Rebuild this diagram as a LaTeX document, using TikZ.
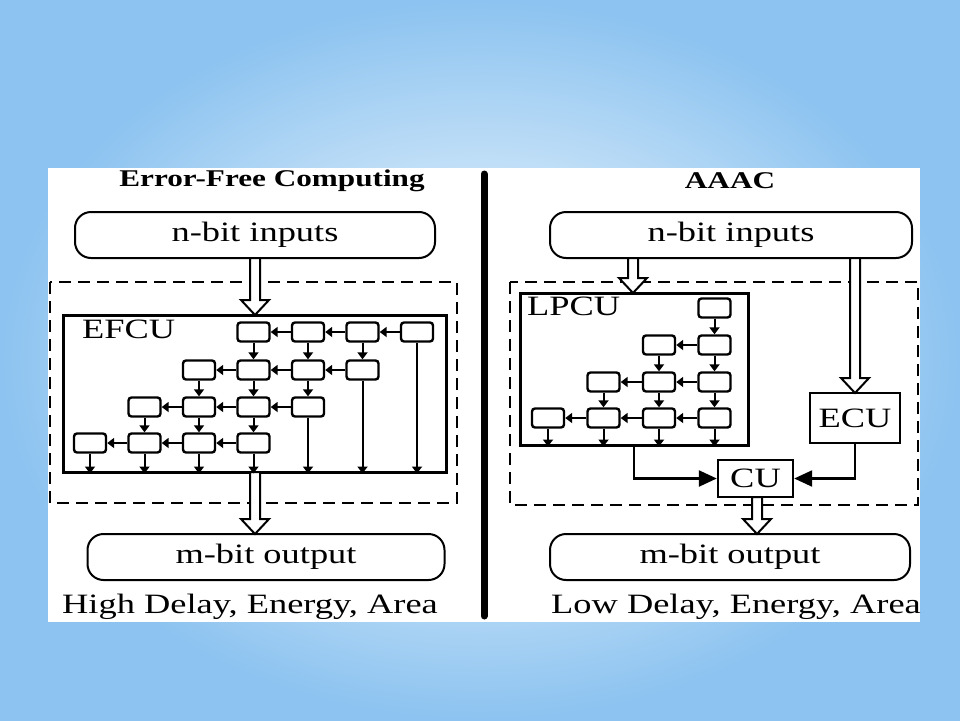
\documentclass[tikz,border=0pt]{standalone}
\usepackage{fontspec}
\setmainfont{Liberation Serif}
\usetikzlibrary{arrows.meta}
\newcommand{\sx}[1]{\scalebox{1.3}[1]{#1}}
\tikzset{
 cell/.style={draw,line width=2.4pt,rounded corners=3pt,minimum width=32pt,minimum height=19pt,inner sep=0pt},
 rbox/.style={draw,line width=2pt,rounded corners=16pt,inner sep=0pt,font=\fontsize{28}{30}\selectfont},
 sbox/.style={draw,line width=2.4pt,inner sep=0pt,font=\fontsize{28}{30}\selectfont},
 ar/.style={line width=2pt,-{Triangle[length=7pt,width=10pt]}},
 bigar/.style={line width=2.4pt,-{Triangle[length=18pt,width=16pt]}},
 hol/.style={draw,line width=2pt,fill=white,line join=miter},
 dashbox/.style={draw,line width=1.6pt,dash pattern=on 12pt off 7pt},
 lbl/.style={font=\fontsize{28}{30}\selectfont},
 ttl/.style={font=\bfseries\fontsize{24}{26}\selectfont}
}
\newcommand{\hollowarrow}[3]{%
 \path[hol] (#1-5,#2) -- (#1-5,#3-15) -- (#1-14,#3-15) -- (#1,#3) -- (#1+14,#3-15) -- (#1+5,#3-15) -- (#1+5,#2) -- cycle;}
\begin{document}
\begin{tikzpicture}[x=1pt,y=-1pt]
\shade[inner color=white,outer color={rgb,255:red,140;green,195;blue,240}] (0,0) rectangle (960,720);
\fill[white] (48,168) rectangle (920,622);
\draw[line width=7pt,line cap=round] (484,174) -- (484,616);
% left
\node[ttl] (t1) at (272,181) {\sx{Error-Free Computing}};
\node[rbox,minimum width=360pt,minimum height=46pt] (in1) at (255,235) {\sx{n-bit inputs}};
\path[dashbox] (50,282) rectangle (457,503);
\node[draw,line width=3pt,minimum width=383pt,minimum height=157pt,inner sep=0pt] (efcu) at (254.5,393.5) {};
\node[lbl,anchor=north west,inner sep=0pt] (efl) at (82,320) {\sx{EFCU}};
\node[rbox,minimum width=357pt,minimum height=46pt] (out1) at (266,557) {\sx{m-bit output}};
\node[lbl] (b1) at (250,607) {\sx{High Delay, Energy, Area}};
\hollowarrow{255}{258}{315}
\hollowarrow{255}{472}{534}
\foreach \r/\y/\cs in {1/332/{4,5,6,7},2/370/{3,4,5,6},3/407/{2,3,4,5},4/443/{1,2,3,4}}{
 \foreach \c in \cs { \node[cell] (e\r\c) at ({90+54.5*(\c-1)},\y) {}; }
}
\foreach \r/\a/\b in {1/4/6,2/3/5,3/2/4,4/1/3}{
 \foreach \c in {\a,...,\b}{ \pgfmathtruncatemacro\n{\c+1} \draw[ar] (e\r\n) -- (e\r\c); }
}
\foreach \c in {4,5,6}{\draw[ar] (e1\c) -- (e2\c);}
\foreach \c in {3,4,5}{\draw[ar] (e2\c) -- (e3\c);}
\foreach \c in {2,3,4}{\draw[ar] (e3\c) -- (e4\c);}
\foreach \c in {1,2,3,4}{\draw[ar] (e4\c.south) -- (e4\c.south |- efcu.south);}
\draw[ar] (e17.south) -- (e17.south |- efcu.south);
\draw[ar] (e26.south) -- (e26.south |- efcu.south);
\draw[ar] (e35.south) -- (e35.south |- efcu.south);
% right
\node[ttl] (t2) at (730,181) {\sx{AAAC}};
\node[rbox,minimum width=362pt,minimum height=46pt] (in2) at (731,235) {\sx{n-bit inputs}};
\path[dashbox] (510,282) rectangle (918,505);
\node[draw,line width=3pt,minimum width=228pt,minimum height=152pt,inner sep=0pt] (lpcu) at (634,369) {};
\node[lbl,anchor=north west,inner sep=0pt] (lpl) at (527,297) {\sx{LPCU}};
\foreach \r/\y/\cs in {1/308/{4},2/345/{3,4},3/382/{2,3,4},4/418/{1,2,3,4}}{
 \foreach \c in \cs { \node[cell] (l\r\c) at ({548+55.5*(\c-1)},\y) {}; }
}
\draw[ar] (l24) -- (l23);
\draw[ar] (l34) -- (l33); \draw[ar] (l33) -- (l32);
\draw[ar] (l44) -- (l43); \draw[ar] (l43) -- (l42); \draw[ar] (l42) -- (l41);
\draw[ar] (l14) -- (l24);
\foreach \c in {3,4}{\draw[ar] (l2\c) -- (l3\c);}
\foreach \c in {2,3,4}{\draw[ar] (l3\c) -- (l4\c);}
\foreach \c in {1,2,3,4}{\draw[ar] (l4\c.south) -- (l4\c.south |- lpcu.south);}
\node[sbox,minimum width=90pt,minimum height=50pt] (ecu) at (855,418) {\sx{ECU}};
\node[sbox,minimum width=75pt,minimum height=37pt] (cu) at (755.5,478.5) {\sx{CU}};
\hollowarrow{633}{258}{293}
\hollowarrow{855}{258}{393}
\hollowarrow{757}{497}{534}
\coordinate (lp) at (634,445);
\draw[bigar] (lp) |- (cu.west);
\draw[bigar] (ecu.south) |- (cu.east);
\node[rbox,minimum width=360pt,minimum height=46pt] (out2) at (730,557) {\sx{m-bit output}};
\node[lbl] (b2) at (736,607) {\sx{Low Delay, Energy, Area}};
\end{tikzpicture}
\end{document}
